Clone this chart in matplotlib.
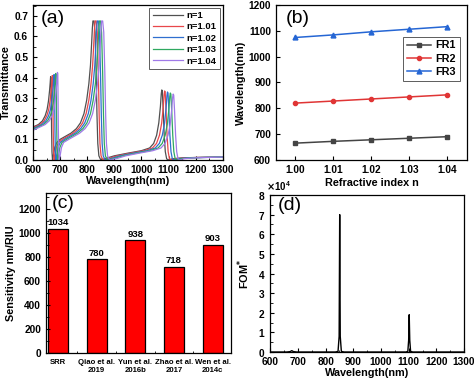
import numpy as np
import matplotlib
matplotlib.use("Agg")
import matplotlib.pyplot as plt
from matplotlib.ticker import MultipleLocator, AutoMinorLocator, ScalarFormatter

plt.rcParams["font.family"] = ["Liberation Sans", "DejaVu Sans"]
plt.rcParams["font.weight"] = "bold"
plt.rcParams["axes.labelweight"] = "bold"
plt.rcParams["axes.linewidth"] = 0.9

# (a) transmittance spectra
wl_100 = [600, 620, 635, 645, 652, 657, 661, 663.5, 665, 666.5, 667.5, 668.5, 670, 672, 675, 680, 688,
          700, 720, 740, 760, 775, 788, 798, 806, 812, 816, 819, 821, 825, 829, 833, 836, 839, 843, 850,
          870, 900, 950, 1000, 1030, 1045, 1056, 1064, 1070, 1073, 1075, 1077, 1080, 1084, 1088, 1093,
          1100, 1115, 1150, 1200, 1300]
wl_101 = [600, 626, 641, 651, 658, 663, 667, 669.5, 671, 672.5, 673.5, 674.5, 676, 678, 681, 686, 694,
          708, 728, 748, 768, 783, 796, 806, 814, 820, 824, 827, 829, 833, 837, 841, 844, 847, 851, 858,
          880.5, 910.5, 960.5, 1010.5, 1040.5, 1055.5, 1066.5, 1074.5, 1080.5, 1083.5, 1085.5, 1087.5,
          1090.5, 1094.5, 1098.5, 1103.5, 1110.5, 1125.5, 1160.5, 1210.5, 1300]
wl_102 = [600, 632.5, 647.5, 657.5, 664.5, 669.5, 673.5, 676, 677.5, 679, 680, 681, 682.5, 684.5, 687.5,
          692.5, 700.5, 716, 736, 756, 776, 791, 804, 814, 822, 828, 832, 835, 837, 841, 845, 849, 852,
          855, 859, 866, 891, 921, 971, 1021, 1051, 1066, 1077, 1085, 1091, 1094, 1096, 1098, 1101, 1105,
          1109, 1114, 1121, 1136, 1171, 1221, 1300]
wl_103 = [600, 639, 654, 664, 671, 676, 680, 682.5, 684, 685.5, 686.5, 687.5, 689, 691, 694, 699, 707,
          724, 744, 764, 784, 799, 812, 822, 830, 836, 840, 843, 845, 849, 853, 857, 860, 863, 867, 874,
          901.5, 931.5, 981.5, 1031.5, 1061.5, 1076.5, 1087.5, 1095.5, 1101.5, 1104.5, 1106.5, 1108.5,
          1111.5, 1115.5, 1119.5, 1124.5, 1131.5, 1146.5, 1181.5, 1231.5, 1300]
wl_104 = [600, 645, 660, 670, 677, 682, 686, 688.5, 690, 691.5, 692.5, 693.5, 695, 697, 700, 705, 713,
          732, 752, 772, 792, 807, 820, 830, 838, 844, 848, 851, 853, 857, 861, 865, 868, 871, 875, 882,
          912, 942, 992, 1042, 1072, 1087, 1098, 1106, 1112, 1115, 1117, 1119, 1122, 1126, 1130, 1135,
          1142, 1157, 1192, 1242, 1300]

t_100 = [0.160, 0.172, 0.190, 0.215, 0.245, 0.285, 0.335, 0.375, 0.405, 0.400, 0.300, 0.150, 0.040,
         0.000, 0.020, 0.060, 0.085, 0.100, 0.115, 0.130, 0.152, 0.180, 0.225, 0.290, 0.370, 0.460,
         0.560, 0.640, 0.675, 0.675, 0.620, 0.420, 0.220, 0.080, 0.020, 0.000, 0.008, 0.020, 0.033,
         0.045, 0.058, 0.080, 0.120, 0.180, 0.260, 0.320, 0.340, 0.335, 0.250, 0.120, 0.040, 0.005,
         0.000, 0.006, 0.010, 0.012, 0.014]
t_101 = [0.156, 0.172, 0.190, 0.215, 0.245, 0.287, 0.338, 0.380, 0.410, 0.405, 0.300, 0.150, 0.040,
         0.000, 0.020, 0.060, 0.085, 0.100, 0.115, 0.130, 0.152, 0.180, 0.225, 0.290, 0.370, 0.460,
         0.560, 0.640, 0.675, 0.675, 0.620, 0.420, 0.220, 0.080, 0.020, 0.000, 0.008, 0.020, 0.033,
         0.045, 0.058, 0.080, 0.120, 0.178, 0.257, 0.316, 0.335, 0.330, 0.248, 0.120, 0.040, 0.005,
         0.000, 0.006, 0.010, 0.012, 0.014]
t_102 = [0.152, 0.172, 0.190, 0.215, 0.245, 0.289, 0.341, 0.385, 0.415, 0.410, 0.300, 0.150, 0.040,
         0.000, 0.020, 0.060, 0.085, 0.100, 0.115, 0.130, 0.152, 0.180, 0.225, 0.290, 0.370, 0.460,
         0.560, 0.640, 0.675, 0.675, 0.620, 0.420, 0.220, 0.080, 0.020, 0.000, 0.008, 0.020, 0.033,
         0.045, 0.058, 0.080, 0.120, 0.176, 0.254, 0.312, 0.330, 0.325, 0.246, 0.120, 0.040, 0.005,
         0.000, 0.006, 0.010, 0.012, 0.014]
t_103 = [0.148, 0.172, 0.190, 0.215, 0.245, 0.291, 0.344, 0.390, 0.420, 0.415, 0.300, 0.150, 0.040,
         0.000, 0.020, 0.060, 0.085, 0.100, 0.115, 0.130, 0.152, 0.180, 0.225, 0.290, 0.370, 0.460,
         0.560, 0.640, 0.675, 0.675, 0.620, 0.420, 0.220, 0.080, 0.020, 0.000, 0.008, 0.020, 0.033,
         0.045, 0.058, 0.080, 0.120, 0.174, 0.251, 0.308, 0.325, 0.320, 0.244, 0.120, 0.040, 0.005,
         0.000, 0.006, 0.010, 0.012, 0.014]
t_104 = [0.144, 0.172, 0.190, 0.215, 0.245, 0.293, 0.347, 0.395, 0.425, 0.420, 0.300, 0.150, 0.040,
         0.000, 0.020, 0.060, 0.085, 0.100, 0.115, 0.130, 0.152, 0.180, 0.225, 0.290, 0.370, 0.460,
         0.560, 0.640, 0.675, 0.675, 0.620, 0.420, 0.220, 0.080, 0.020, 0.000, 0.008, 0.020, 0.033,
         0.045, 0.058, 0.080, 0.120, 0.172, 0.248, 0.304, 0.320, 0.315, 0.242, 0.120, 0.040, 0.005,
         0.000, 0.006, 0.010, 0.012, 0.014]

spec_labels = ["n=1", "n=1.01", "n=1.02", "n=1.03", "n=1.04"]
spec_colors = ["#505050", "#e8474a", "#2f6fcf", "#2fa860", "#a07ae8"]

# (b) resonance wavelengths
n_index = [1.00, 1.01, 1.02, 1.03, 1.04]
fr1 = [665, 672, 678, 684, 690]
fr2 = [820, 828, 836, 844, 852]
fr3 = [1074, 1084, 1096, 1106, 1116]

# (c) sensitivity comparison
works = ["SRR", "Qiao et al.\n2019", "Yun et al.\n2016b", "Zhao et al.\n2017", "Wen et al.\n2014c"]
sens = [1034, 780, 938, 718, 903]

# (d) FOM* spectrum
fom_wl = [600, 660, 672, 678, 684, 696, 835, 845, 849, 851, 853, 857, 867, 1090, 1097, 1100, 1102,
          1104, 1107, 1115, 1300]
fom_val = [0, 0, 200, 700, 200, 0, 0, 300, 8000, 70000, 8000, 300, 0, 0, 300, 6000, 19000,
           6000, 300, 0, 0]

LABEL_FS = 7.8


def style_axes(ax):
    ax.tick_params(direction="in", which="both", labelsize=7.3, length=3)
    ax.tick_params(which="minor", length=1.8)
    for lab in ax.get_xticklabels() + ax.get_yticklabels():
        lab.set_fontweight("bold")


fig = plt.figure(figsize=(4.74, 3.79), dpi=100)

# ---- (a)
ax_a = fig.add_axes([0.0696, 0.578, 0.4004, 0.409])
wls = [wl_100, wl_101, wl_102, wl_103, wl_104]
ts = [t_100, t_101, t_102, t_103, t_104]
for wl, t, lab, col in zip(wls, ts, spec_labels, spec_colors):
    ax_a.plot(wl, t, color=col, lw=0.9, label=lab)
ax_a.set_xlim(600, 1300)
ax_a.set_ylim(0, 0.753)
ax_a.xaxis.set_major_locator(MultipleLocator(100))
ax_a.yaxis.set_major_locator(MultipleLocator(0.1))
ax_a.xaxis.set_minor_locator(AutoMinorLocator(2))
ax_a.yaxis.set_minor_locator(AutoMinorLocator(2))
ax_a.yaxis.set_major_formatter(plt.FormatStrFormatter("%.1f"))
ax_a.set_xlabel("Wavelength(nm)", fontsize=LABEL_FS, labelpad=1)
ax_a.set_ylabel("Transmittance", fontsize=LABEL_FS, labelpad=2)
style_axes(ax_a)
ax_a.text(0.04, 0.97, "(a)", transform=ax_a.transAxes, fontsize=14, fontweight="normal", va="top")
leg = ax_a.legend(loc="upper right", prop={"weight": "bold", "size": 6.8},
                  frameon=True, fancybox=False, edgecolor="#333333", handlelength=3.2,
                  borderpad=0.35, labelspacing=0.25, handletextpad=0.4, borderaxespad=0.3)
leg.get_frame().set_linewidth(0.7)

# ---- (b)
ax_b = fig.add_axes([0.582, 0.578, 0.403, 0.409])
ax_b.plot(n_index, fr1, color="#444444", marker="s", ms=3, lw=1.1, label="FR1")
ax_b.plot(n_index, fr2, color="#e03535", marker="o", ms=3, lw=1.1, label="FR2")
ax_b.plot(n_index, fr3, color="#2566d4", marker="^", ms=3.5, lw=1.1, label="FR3")
ax_b.set_xlim(0.9949, 1.0451)
ax_b.set_ylim(600, 1200)
ax_b.xaxis.set_major_locator(MultipleLocator(0.01))
ax_b.yaxis.set_major_locator(MultipleLocator(100))
ax_b.xaxis.set_major_formatter(plt.FormatStrFormatter("%.2f"))
ax_b.set_xlabel("Refractive index n", fontsize=LABEL_FS, labelpad=2)
ax_b.set_ylabel("Wavelength(nm)", fontsize=LABEL_FS, labelpad=2)
style_axes(ax_b)
ax_b.text(0.05, 0.97, "(b)", transform=ax_b.transAxes, fontsize=14, fontweight="normal", va="top")
leg_b = ax_b.legend(loc="upper right", bbox_to_anchor=(0.99, 0.83), prop={"weight": "bold", "size": 7.8},
                    frameon=True, fancybox=False, edgecolor="#333333", handlelength=2.2,
                    borderpad=0.35, labelspacing=0.3, handletextpad=0.4)
leg_b.get_frame().set_linewidth(0.7)

# ---- (c)
ax_c = fig.add_axes([0.097, 0.0686, 0.39, 0.4224])
xpos = np.arange(len(works))
ax_c.bar(xpos, sens, width=0.52, color="#ff0000", edgecolor="black", lw=0.9)
for x, v in zip(xpos, sens):
    ax_c.text(x, v + 15, str(v), ha="center", va="bottom", fontsize=6.8, fontweight="bold")
ax_c.set_xlim(-0.31, 4.47)
ax_c.set_ylim(0, 1333)
ax_c.set_xticks(xpos)
ax_c.set_xticklabels(works, fontsize=5.6, fontweight="bold", linespacing=1.2)
ax_c.set_xticks(xpos[:-1] + 0.5, minor=True)
ax_c.yaxis.set_major_locator(MultipleLocator(200))
ax_c.yaxis.set_minor_locator(AutoMinorLocator(2))
ax_c.set_ylabel("Sensitivity nm/RIU", fontsize=LABEL_FS, labelpad=2)
style_axes(ax_c)
ax_c.tick_params(axis="x", labelsize=5.6, which="major", length=0, pad=4)
ax_c.text(0.03, 0.985, "(c)", transform=ax_c.transAxes, fontsize=14, fontweight="normal", va="top")

# ---- (d)
ax_d = fig.add_axes([0.570, 0.0712, 0.409, 0.4143])
ax_d.plot(fom_wl, fom_val, color="black", lw=1.0)
ax_d.set_xlim(600, 1300)
ax_d.set_ylim(0, 80000)
ax_d.xaxis.set_major_locator(MultipleLocator(100))
ax_d.xaxis.set_minor_locator(AutoMinorLocator(2))
ax_d.yaxis.set_major_locator(MultipleLocator(10000))
ax_d.yaxis.set_minor_locator(AutoMinorLocator(2))
fmt = ScalarFormatter(useMathText=True)
fmt.set_powerlimits((0, 0))
ax_d.yaxis.set_major_formatter(fmt)
ax_d.set_xlabel("Wavelength(nm)", fontsize=LABEL_FS, labelpad=1)
ax_d.set_ylabel("FOM$^{*}$", fontsize=LABEL_FS, labelpad=4)
style_axes(ax_d)
ax_d.yaxis.get_offset_text().set_fontsize(7)
ax_d.yaxis.get_offset_text().set_x(-0.02)
ax_d.text(0.04, 0.985, "(d)", transform=ax_d.transAxes, fontsize=14, fontweight="normal", va="top")

fig.savefig("out.png", dpi=100)
